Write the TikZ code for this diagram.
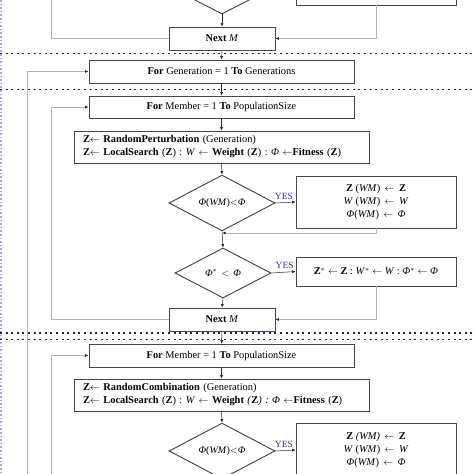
\documentclass[tikz,border=0pt]{standalone}
\usepackage{fontspec}
\setmainfont{Liberation Serif}
\usetikzlibrary{shapes.geometric,arrows.meta}
\begin{document}
\begin{tikzpicture}[x=1pt,y=-1pt,
  box/.style={draw=black!72,line width=0.9pt,inner sep=0pt,font=\fontsize{10.4}{13}\selectfont},
  dia/.style={diamond,draw=black!75,line width=0.9pt,minimum width=106pt,minimum height=54pt,inner sep=0pt,font=\fontsize{10}{11}\selectfont},
  arr/.style={-{Latex[length=3.5pt,width=3pt]},black!85,line width=0.5pt},
  loopl/.style={draw=black!30,line width=0.7pt},
  looparr/.style={loopl,-{Latex[length=3.5pt,width=3pt,color=black!85]}},
  sepline/.style={draw={rgb,255:red,30;green,30;blue,120},line width=1.5pt,dash pattern=on 2pt off 3.6pt},
  sidel/.style={draw={rgb,255:red,170;green,170;blue,225},line width=1.2pt,dash pattern=on 1.6pt off 2pt},
  yes/.style={text={rgb,255:red,50;green,50;blue,150},font=\fontsize{9.5}{11}\selectfont,inner sep=0pt}
]
\useasboundingbox (0,0) rectangle (474,474);
\clip (0,0) rectangle (474,474);
\fill[white] (0,0) rectangle (474,474);

% separators
\draw[sidel] (1,0) -- (1,474);
\draw[sepline] (0,53.5) -- (474,53.5);
\draw[sepline] (0,89.5) -- (474,89.5);
\draw[sepline] (0,333) -- (474,333);
\draw[sepline] (0,339.5) -- (474,339.5);

% top (partial) section
\node[dia] (d0) at (222,-13) {};
\node[box,minimum width=160pt,minimum height=50pt] (r0) at (376,-20) {};
\node[box,minimum width=106pt,minimum height=23pt] (n1) at (222,38.5) {\textbf{Next} \textit{M}};

% generation loop
\node[box,minimum width=265pt,minimum height=23pt] (gen) at (221.5,71.5) {\textbf{For} Generation = 1 \textbf{To} Generations};
\node[box,minimum width=265pt,minimum height=22pt] (m1) at (221.5,107) {\textbf{For} Member = 1 \textbf{To} PopulationSize};
\node[box,minimum width=295pt,minimum height=32pt,text width=277pt,align=left] (p1) at (221.5,147) {%
\textbf{Z}$\leftarrow$ \textbf{RandomPerturbation} (Generation)\\
\textbf{Z}$\leftarrow$ \textbf{LocalSearch} (\textbf{Z}) : \textit{W} $\leftarrow$ \textbf{Weight} (\textbf{Z}) : \textit{Φ} $\leftarrow$\textbf{Fitness} (\textbf{Z})};
\node[dia] (d1) at (222,203) {\textit{Φ}(\textit{WM})$<$\textit{Φ}};
\node[box,minimum width=160pt,minimum height=52pt,align=center] (r1) at (376,202) {%
\textbf{Z} (\textit{WM}) \,$\leftarrow$\, \textbf{Z}\\
\textit{W} (\textit{WM}) \,$\leftarrow$\, \textit{W}\\
\textit{Φ}(\textit{WM}) \,$\leftarrow$\, \textit{Φ}};
\coordinate (j1) at (222,233);
\node[dia,minimum width=96pt,minimum height=50pt] (d2) at (223,273) {\textit{Φ}$^*$ \,$<$\, \textit{Φ}};
\node[box,minimum width=160pt,minimum height=29pt] (r2) at (376,271.5) {%
\textbf{Z}$^*$ $\leftarrow$ \textbf{Z} : \textit{W}$^*$ $\leftarrow$ \textit{W} :\ \textit{Φ}$^*$ $\leftarrow$\ \textit{Φ}};
\node[box,minimum width=106pt,minimum height=23pt] (n2) at (222,319.5) {\textbf{Next} \textit{M}};

% combination section
\node[box,minimum width=265pt,minimum height=23pt] (m2) at (221.5,355.5) {\textbf{For} Member = 1 \textbf{To} PopulationSize};
\node[box,minimum width=295pt,minimum height=32pt,text width=277pt,align=left] (p2) at (221.5,395) {%
\textbf{Z}$\leftarrow$ \textbf{RandomCombination} (Generation)\\
\textbf{Z}$\leftarrow$ \textbf{LocalSearch} (\textbf{Z}) : \textit{W} $\leftarrow$ \textbf{Weight} \textit{(}\textbf{Z}\textit{) :} \textit{Φ} $\leftarrow$\textbf{Fitness} (\textbf{Z})};
\node[dia] (d3) at (222,451) {\textit{Φ}(\textit{WM})$<$\textit{Φ}};
\node[box,minimum width=160pt,minimum height=54pt,align=center] (r3) at (376,450) {%
\textbf{Z} \textit{(WM)} \,$\leftarrow$\, \textbf{Z}\\
\textit{W} (\textit{WM}) \,$\leftarrow$\, \textit{W}\\
\textit{Φ}(\textit{WM}) \,$\leftarrow$\, \textit{Φ}};

% loop coordinates
\coordinate (L0) at (27,480);
\coordinate (L1) at (51,-5);
\coordinate (L2) at (51,480);

% connectors
\draw[arr] (d0.south) -- (n1.north);
\draw[looparr] (r0.south) |- (n1.east);
\draw[loopl] (n1.west) -| (L1);
\draw[arr] (n1.south) -- (gen.north);
\draw[looparr] (L0) |- (gen.west);
\draw[arr] (gen.south) -- (m1.north);
\draw[arr] (m1.south) -- (p1.north);
\draw[arr] (p1.south) -- (d1.north);
\draw[arr] (d1.east) -- node[yes,pos=0.42,above=3pt]{YES} (r1.west);
\draw[looparr] (r1.south) |- (j1);
\draw[arr] (d1.south) -- (d2.north);
\draw[arr] (d2.east) -- node[yes,pos=0.55,above=3pt]{YES} (r2.west);
\draw[arr] (d2.south) -- (n2.north);
\draw[looparr] (r2.south) |- (n2.east);
\draw[looparr] (n2.west) -| (L1 |- m1.west) -- (m1.west);
\draw[arr] (n2.south) -- (m2.north);
\draw[looparr] (L2) |- (m2.west);
\draw[arr] (m2.south) -- (p2.north);
\draw[arr] (p2.south) -- (d3.north);
\draw[arr] (d3.east) -- node[yes,pos=0.42,above=3pt]{YES} (r3.west);
\end{tikzpicture}
\end{document}
